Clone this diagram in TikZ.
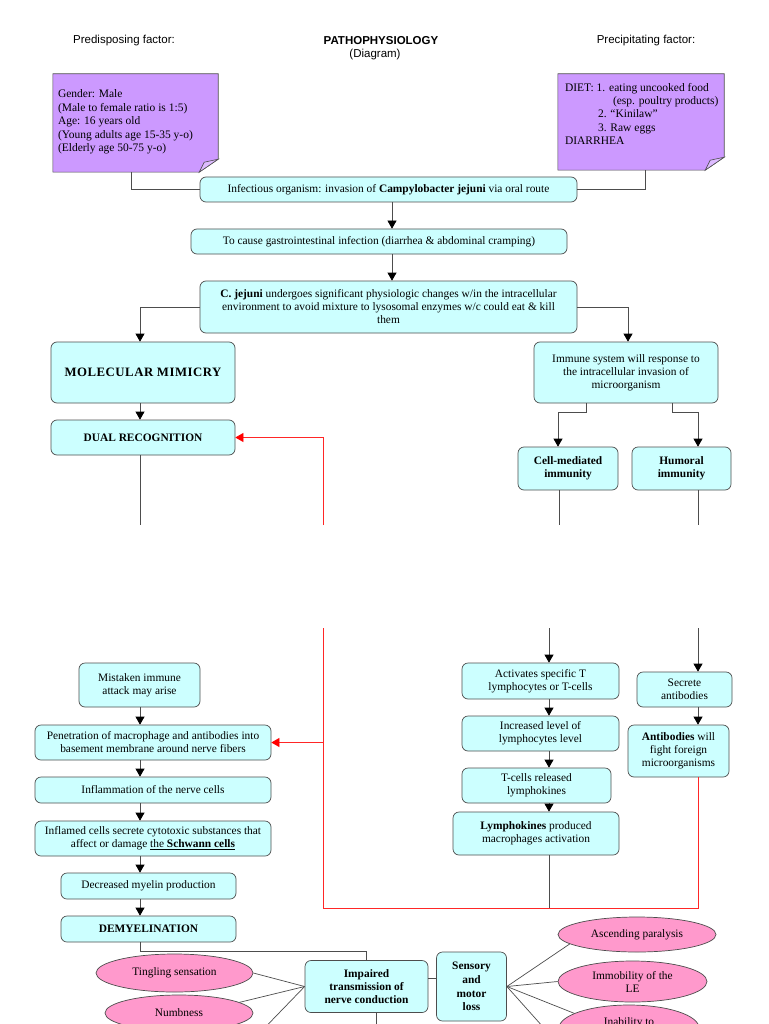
\documentclass[tikz,border=0pt]{standalone}
\usepackage{fontspec}
\setmainfont{Liberation Serif}
\newfontfamily\headfont{Liberation Sans}
\usetikzlibrary{arrows.meta,shapes.geometric}
\definecolor{boxfill}{HTML}{CCFFFF}
\definecolor{notefill}{HTML}{CC99FF}
\definecolor{flapfill}{HTML}{DDBBFF}
\definecolor{ovalfill}{HTML}{FF99CC}
\definecolor{edge}{HTML}{4D4D4D}

\begin{document}
\begin{tikzpicture}[x=1pt,y=-1pt,
    box/.style={draw=edge, fill=boxfill, rounded corners=6pt, line width=0.7pt, align=center, inner sep=2pt, font=\fontsize{11.4}{13}\selectfont},
    boldbox/.style={box, font=\bfseries\fontsize{11.4}{13}\selectfont},
    oval/.style={ellipse, draw=edge, fill=ovalfill, line width=0.7pt, align=center, inner sep=0pt, font=\fontsize{11.4}{13}\selectfont},
    note/.style={inner sep=0pt},
    notetext/.style={align=left, inner sep=0pt, font=\fontsize{11.5}{13.4}\selectfont},
    head/.style={font=\headfont\fontsize{11.5}{13}\selectfont},
    link/.style={draw=edge, line width=0.7pt},
    arrow/.style={link, -{Triangle[length=8pt,width=9pt,color=black]}},
    redlink/.style={draw=red!85, line width=0.7pt},
    redarrow/.style={redlink, -{Triangle[length=8pt,width=9pt,color=red]}}]
            \useasboundingbox (0,0) rectangle (768,1024);
            \fill[white] (0,0) rectangle (768,1024);

            \node[head] (predis) at (124,41) {Predisposing factor:};
            \node[head, font=\headfont\bfseries\fontsize{11.5}{13}\selectfont] (title) at (381,41) {PATHOPHYSIOLOGY};
            \node[head] (subtitle) at (375,55) {(Diagram)};
            \node[head] (precip) at (646,41) {Precipitating factor:};

            \node[note, minimum width=165pt, minimum height=98pt] (gender) at (135.5,123) {};
            \filldraw[notefill, draw=edge, line width=0.6pt] (gender.north west) -- (gender.north east) -- ([yshift=13pt]gender.south east) -- ([xshift=-19pt]gender.south east) -- (gender.south west) -- cycle;
            \filldraw[flapfill, draw=edge, line width=0.6pt] ([yshift=13pt]gender.south east) -- ([xshift=-19pt]gender.south east) -- ([xshift=-14pt,yshift=10pt]gender.south east) -- cycle;
            \node[notetext, anchor=north west] (gendertext) at ([xshift=5pt,yshift=-16pt]gender.north west) {Gender: Male\\(Male to female ratio is 1:5)\\Age: 16 years old\\(Young adults age 15-35 y-o)\\(Elderly age 50-75 y-o)};

            \node[note, minimum width=166pt, minimum height=96pt] (diet) at (641,122) {};
            \filldraw[notefill, draw=edge, line width=0.6pt] (diet.north west) -- (diet.north east) -- ([yshift=13pt]diet.south east) -- ([xshift=-19pt]diet.south east) -- (diet.south west) -- cycle;
            \filldraw[flapfill, draw=edge, line width=0.6pt] ([yshift=13pt]diet.south east) -- ([xshift=-19pt]diet.south east) -- ([xshift=-14pt,yshift=10pt]diet.south east) -- cycle;
            \node[notetext, anchor=north west] (diettext) at ([xshift=7pt,yshift=-9pt]diet.north west) {DIET: 1. eating uncooked food\\\hspace*{48pt}(esp. poultry products)\\\hspace*{33pt}2. ``Kinilaw''\\\hspace*{33pt}3. Raw eggs\\DIARRHEA};

            \node[box, minimum width=377pt, minimum height=25pt] (invade) at (388.5,189.5) {Infectious organism: invasion of \textbf{Campylobacter jejuni} via oral route};
            \node[box, minimum width=376pt, minimum height=25pt] (gitinf) at (379,241.5) {To cause gastrointestinal infection (diarrhea \& abdominal cramping)};
            \node[box, minimum width=377pt, minimum height=52pt] (cjejuni) at (388.5,307) {\textbf{C. jejuni} undergoes significant physiologic changes w/in the intracellular\\environment to avoid mixture to lysosomal enzymes w/c could eat \& kill\\them};

            \node[box, minimum width=184pt, minimum height=61pt, font=\bfseries\fontsize{12.8}{14}\selectfont\addfontfeature{LetterSpace=4}] (mimicry) at (143,372.5) {MOLECULAR MIMICRY};
            \node[boldbox, minimum width=184pt, minimum height=35pt] (dualrec) at (143,437.5) {DUAL RECOGNITION};
            \node[box, minimum width=184pt, minimum height=61pt] (immune) at (626,372.5) {Immune system will response to\\the intracellular invasion of\\microorganism};
            \node[boldbox, minimum width=100pt, minimum height=43pt] (cellmed) at (568,468.5) {Cell-mediated\\immunity};
            \node[boldbox, minimum width=99pt, minimum height=43pt] (humoral) at (681.5,468.5) {Humoral\\immunity};

            \node[box, minimum width=121pt, minimum height=44pt] (mistaken) at (139.5,685) {Mistaken immune\\attack may arise};
            \node[box, minimum width=236pt, minimum height=35pt] (penetr) at (153,742.5) {Penetration of macrophage and antibodies into\\basement membrane around nerve fibers};
            \node[box, minimum width=236pt, minimum height=26pt] (inflam) at (153,790) {Inflammation of the nerve cells};
            \node[box, minimum width=236pt, minimum height=35pt] (inflamed) at (153,838.5) {Inflamed cells secrete cytotoxic substances that\\affect or damage \underline{the \textbf{Schwann cells}}};
            \node[box, minimum width=175pt, minimum height=26pt] (myelin) at (148.5,886) {Decreased myelin production};
            \node[boldbox, minimum width=175pt, minimum height=26pt] (demyel) at (148.5,929) {DEMYELINATION};

            \node[box, minimum width=157pt, minimum height=36pt] (activ) at (540.5,681) {Activates specific T\\lymphocytes or T-cells};
            \node[box, minimum width=157pt, minimum height=35pt] (increased) at (540.5,733.5) {Increased level of\\lymphocytes level};
            \node[box, minimum width=149pt, minimum height=35pt] (tcells) at (536.5,785.5) {T-cells released\\lymphokines};
            \node[box, minimum width=166pt, minimum height=43pt] (lymphok) at (536,833.5) {\textbf{Lymphokines} produced\\macrophages activation};
            \node[box, minimum width=95pt, minimum height=35pt] (secrete) at (684.5,689.5) {Secrete\\antibodies};
            \node[box, minimum width=101pt, minimum height=52pt] (antib) at (678.5,751) {\textbf{Antibodies} will\\fight foreign\\microorganisms};

            \node[boldbox, minimum width=123pt, minimum height=52pt] (impaired) at (366.5,986.5) {Impaired\\transmission of\\nerve conduction};
            \node[box, minimum width=70pt, minimum height=69pt, font=\bfseries\fontsize{11.4}{13.8}\selectfont] (sensory) at (471.5,986.5) {Sensory\\and\\motor\\loss};

            \node[oval, minimum width=157pt, minimum height=38pt] (tingling) at (174.5,973) {Tingling sensation};
            \node[oval, minimum width=148pt, minimum height=36pt] (numbness) at (179,1013) {Numbness};
            \node[oval, minimum width=158pt, minimum height=35pt] (paralysis) at (637,934.5) {Ascending paralysis};
            \node[oval, minimum width=149pt, minimum height=41pt] (immob) at (632.5,981.5) {Immobility of the\\LE};
            \node[oval, minimum width=140pt, minimum height=46pt] (inability) at (629,1028) {Inability to\\~};

            \coordinate (mainx) at (392,0);
            \coordinate (leftx) at (140,0);
            \coordinate (leftcut) at (140,525);
            \coordinate (cellcut) at (559,525);
            \coordinate (humcut) at (698,525);
            \coordinate (cellx) at (549,628);
            \coordinate (humx) at (698,628);
            \coordinate (redtop) at (323,525);
            \coordinate (redcut) at (323,628);
            \coordinate (redbase) at (323,908);
            \coordinate (downcut) at (376,1040);
            \coordinate (leftmore) at (250,1043);
            \coordinate (rightmore) at (552,1037);

            \draw[link] ([xshift=-4.5pt]gender.south) |- (invade.west);
            \draw[link] ([xshift=4pt]diet.south) |- (invade.east);
            \draw[arrow] (invade.south -| mainx) -- (gitinf.north -| mainx);
            \draw[arrow] (gitinf.south -| mainx) -- (cjejuni.north -| mainx);
            \draw[arrow] (cjejuni.west) -| (mimicry.north -| leftx);
            \draw[arrow] (cjejuni.east) -| ([xshift=2pt]immune.north);
            \draw[arrow] (mimicry.south -| leftx) -- (dualrec.north -| leftx);
            \draw[link] (dualrec.south -| leftx) -- (leftcut);
            \draw[arrow] ([xshift=-40pt]immune.south) -- ++(0,9) -| ([xshift=-10pt]cellmed.north);
            \draw[arrow] ([xshift=46pt]immune.south) -- ++(0,9) -| ([xshift=16.5pt]humoral.north);
            \draw[link] (cellmed.south -| cellcut) -- (cellcut);
            \draw[link] (humoral.south -| humcut) -- (humcut);
            \draw[redarrow] (redtop) |- (dualrec.east);

            \draw[arrow] (cellx) -- (activ.north -| cellx);
            \draw[arrow] (activ.south -| cellx) -- (increased.north -| cellx);
            \draw[arrow] (increased.south -| cellx) -- (tcells.north -| cellx);
            \draw[arrow] (tcells.south -| cellx) -- (lymphok.north -| cellx);
            \draw[link] (lymphok.south -| cellx) -- (redbase -| cellx);
            \draw[arrow] (humx) -- (secrete.north -| humx);
            \draw[arrow] (secrete.south -| humx) -- (antib.north -| humx);
            \draw[redlink] (redcut) -- (redbase) -| (antib.south -| humx);
            \draw[redarrow] (penetr.east -| redcut) -- (penetr.east);

            \draw[arrow] (mistaken.south -| leftx) -- (penetr.north -| leftx);
            \draw[arrow] (penetr.south -| leftx) -- (inflam.north -| leftx);
            \draw[arrow] (inflam.south -| leftx) -- (inflamed.north -| leftx);
            \draw[arrow] (inflamed.south -| leftx) -- (myelin.north -| leftx);
            \draw[arrow] (myelin.south -| leftx) -- (demyel.north -| leftx);
            \draw[link] (demyel.south -| leftx) -- ++(0,9) -| (impaired.north);
            \draw[link] ([yshift=8pt]impaired.east) -- ([yshift=8pt]impaired.east -| sensory.west);
            \draw[link] (impaired.south -| downcut) -- (downcut);

            \draw[link] (tingling.east) -- (impaired.west);
            \draw[link] (numbness.10) -- (impaired.west);
            \draw[link] (impaired.west) -- (leftmore);
            \draw[link] (sensory.east) -- (paralysis.188);
            \draw[link] (sensory.east) -- (immob.west);
            \draw[link] (sensory.east) -- (inability.165);
            \draw[link] (sensory.east) -- (rightmore);
        \end{tikzpicture}
\end{document}
